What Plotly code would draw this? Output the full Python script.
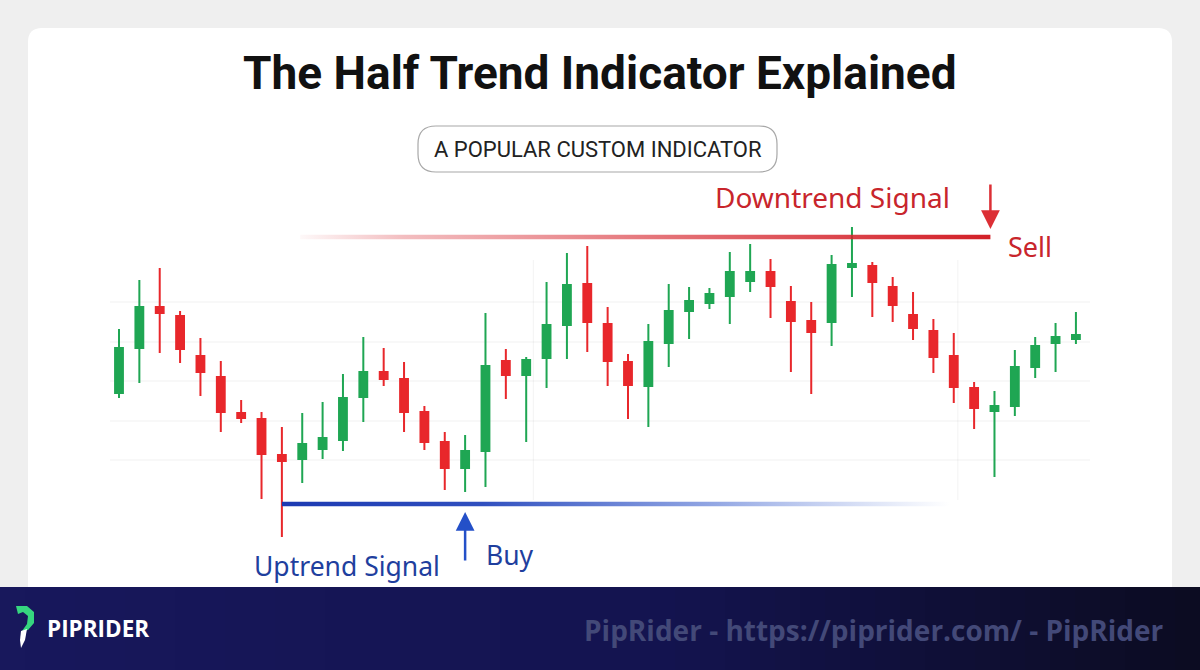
import plotly.graph_objects as go

# ---------------- data ----------------
candle_open  = [207, 252, 293, 284, 244, 223, 187, 181, 145, 141, 151, 160, 203, 228, 221, 188,
                158, 132, 149, 239, 225, 242, 275, 316, 276, 238, 214, 257, 289, 297, 304, 319,
                328, 298, 279, 278, 333, 334, 313, 285, 269, 244, 212, 189, 194, 233, 257, 261]
candle_high  = [271, 320, 332, 289, 262, 239, 200, 188, 173, 187, 198, 226, 263, 252, 238, 194,
                168, 165, 287, 251, 243, 318, 347, 354, 293, 246, 276, 316, 313, 312, 348, 356,
                341, 314, 298, 345, 373, 338, 323, 308, 281, 267, 218, 209, 250, 263, 277, 288]
candle_low   = [202, 217, 247, 237, 204, 168, 177, 101, 63, 117, 141, 149, 178, 214, 168, 150,
                110, 108, 113, 201, 158, 212, 241, 248, 214, 181, 173, 233, 261, 291, 276, 308,
                282, 228, 206, 254, 303, 283, 278, 260, 227, 197, 171, 123, 184, 222, 228, 256]
candle_close = [252, 293, 287, 251, 228, 188, 182, 146, 139, 156, 162, 202, 228, 221, 188, 158,
                132, 149, 234, 225, 240, 275, 315, 278, 239, 215, 258, 289, 299, 306, 328, 328,
                314, 279, 268, 335, 336, 318, 295, 272, 243, 213, 192, 194, 233, 254, 263, 265]
candle_idx = list(range(len(candle_open)))

grid_levels = [298, 258, 219, 179, 140]
grid_vertical_idx = [20.35, 41.2]

sell_level = 363          # downtrend (half trend) line
sell_start_idx = 8.9
sell_end_idx = 42.8
buy_level = 96            # uptrend (half trend) line
buy_start_idx = 8.0
buy_end_idx = 40.8
buy_arrow_idx = 17

title_text = "The Half Trend Indicator Explained"
subtitle_text = "A POPULAR CUSTOM INDICATOR"
footer_text = "PipRider - https://piprider.com/ - PipRider"

# ---------------- geometry helpers ----------------
W, H = 1200, 670
X0_PX, DX_PX = 119, 20.36   # pixel of first candle, pixel per candle
Y_TOP = 600                 # price at the top edge of the figure
LINE_HALF = 2.3             # half thickness of signal lines (price units == px)

def px(x):
    return x / W

def py(y):
    return 1 - y / H

GREEN = "#1fa653"
RED = "#e8272b"

fig = go.Figure()

# half-trend signal lines with horizontal gradient
def band(x0, x1, lv, scale):
    fig.add_trace(go.Scatter(
        x=[x0, x1, x1, x0, x0],
        y=[lv - LINE_HALF, lv - LINE_HALF, lv + LINE_HALF, lv + LINE_HALF, lv - LINE_HALF],
        mode="lines", line=dict(width=0), fill="toself",
        fillgradient=dict(type="horizontal", colorscale=scale),
        hoverinfo="skip", showlegend=False))

band(sell_start_idx, sell_end_idx, sell_level,
     [[0, "rgba(214,36,44,0.03)"], [0.15, "rgba(214,36,44,0.3)"], [0.5, "rgba(214,36,44,0.62)"],
      [0.85, "rgba(212,34,42,0.9)"], [1, "rgba(210,32,40,1)"]])
band(buy_start_idx, buy_end_idx, buy_level,
     [[0, "rgba(28,58,178,1)"], [0.3, "rgba(30,64,185,0.92)"], [0.65, "rgba(40,80,200,0.5)"],
      [1, "rgba(60,100,210,0)"]])

fig.add_trace(go.Candlestick(
    x=candle_idx, open=candle_open, high=candle_high, low=candle_low, close=candle_close,
    increasing=dict(line=dict(color=GREEN, width=2), fillcolor=GREEN),
    decreasing=dict(line=dict(color=RED, width=2), fillcolor=RED),
    whiskerwidth=0, hoverinfo="skip", showlegend=False,
))

shapes = []
# page background card
r = 14
x0, x1, y0, y1 = 28, 1172, 28, 600
card = (f"M {px(x0)},{py(y0 + r)} Q {px(x0)},{py(y0)} {px(x0 + r)},{py(y0)} "
        f"L {px(x1 - r)},{py(y0)} Q {px(x1)},{py(y0)} {px(x1)},{py(y0 + r)} "
        f"L {px(x1)},{py(y1)} L {px(x0)},{py(y1)} Z")
shapes.append(dict(type="path", xref="paper", yref="paper", path=card,
                   fillcolor="#ffffff", line=dict(width=0), layer="below"))

# footer gradient band
nstrip = 48
c_left = (24, 24, 92)
c_mid = (20, 20, 80)
c_right = (12, 12, 34)
for i in range(nstrip):
    t = i / (nstrip - 1)
    if t < 0.55:
        u = t / 0.55
        c = [c_left[k] + (c_mid[k] - c_left[k]) * u for k in range(3)]
    else:
        u = (t - 0.55) / 0.45
        c = [c_mid[k] + (c_right[k] - c_mid[k]) * u for k in range(3)]
    shapes.append(dict(type="rect", xref="paper", yref="paper",
                       x0=i / nstrip, x1=(i + 1) / nstrip + 0.001, y0=0, y1=py(587),
                       fillcolor="rgb(%d,%d,%d)" % tuple(int(v) for v in c),
                       line=dict(width=0), layer="below"))

# faint grid
xg0 = (110 - X0_PX) / DX_PX
xg1 = (1090 - X0_PX) / DX_PX
for lv in grid_levels:
    shapes.append(dict(type="line", xref="x", yref="y", x0=xg0, x1=xg1, y0=lv, y1=lv,
                       line=dict(color="rgba(0,0,0,0.06)", width=1), layer="below"))
for gx in grid_vertical_idx:
    shapes.append(dict(type="line", xref="x", yref="y", x0=gx, x1=gx, y0=100, y1=340,
                       line=dict(color="rgba(0,0,0,0.05)", width=1), layer="below"))

# subtitle pill
r2 = 18
bx0, bx1, by0, by1 = 418, 777, 126, 172
pill = (f"M {px(bx0 + r2)},{py(by0)} L {px(bx1 - r2)},{py(by0)} "
        f"Q {px(bx1)},{py(by0)} {px(bx1)},{py(by0 + r2)} L {px(bx1)},{py(by1 - r2)} "
        f"Q {px(bx1)},{py(by1)} {px(bx1 - r2)},{py(by1)} L {px(bx0 + r2)},{py(by1)} "
        f"Q {px(bx0)},{py(by1)} {px(bx0)},{py(by1 - r2)} L {px(bx0)},{py(by0 + r2)} "
        f"Q {px(bx0)},{py(by0)} {px(bx0 + r2)},{py(by0)} Z")
shapes.append(dict(type="path", xref="paper", yref="paper", path=pill,
                   fillcolor="#ffffff", line=dict(color="#a8a8a8", width=1.2), layer="below"))

# logo mark: green head + white tail
logo = [(16, 606), (27, 606), (34, 612), (34, 623), (28, 630), (22, 631),
        (27, 624), (28, 616), (23, 612), (18, 614)]
path = "M " + " L ".join(f"{px(a)},{py(b)}" for a, b in logo) + " Z"
shapes.append(dict(type="path", xref="paper", yref="paper", path=path,
                   fillcolor="#36d67f", line=dict(width=0)))
tail = [(21, 631), (27, 629), (25, 640), (21, 648), (20, 640)]
path = "M " + " L ".join(f"{px(a)},{py(b)}" for a, b in tail) + " Z"
shapes.append(dict(type="path", xref="paper", yref="paper", path=path,
                   fillcolor="#ffffff", line=dict(width=0)))

annotations = [
    dict(text=title_text, x=px(600), y=py(73), xref="paper", yref="paper", showarrow=False,
         font=dict(family="Roboto", size=46, color="#111111", weight="bold"),
         xanchor="center", yanchor="middle"),
    dict(text=subtitle_text, x=px(598), y=py(149), xref="paper", yref="paper", showarrow=False,
         font=dict(family="Roboto", size=22, color="#222222"),
         xanchor="center", yanchor="middle"),
    dict(text="Downtrend Signal", x=px(832), y=py(197), xref="paper", yref="paper", showarrow=False,
         font=dict(family="Noto Sans", size=28, color="#c8252c"), xanchor="center", yanchor="middle"),
    dict(text="Sell", x=px(1006), y=py(246), xref="paper", yref="paper", showarrow=False,
         font=dict(family="Noto Sans", size=27, color="#c8252c"), xanchor="left", yanchor="middle"),
    dict(text="Uptrend Signal", x=px(252), y=py(566), xref="paper", yref="paper", showarrow=False,
         font=dict(family="Noto Sans", size=26.5, color="#1f3f9e"), xanchor="left", yanchor="middle"),
    dict(text="Buy", x=px(484), y=py(555), xref="paper", yref="paper", showarrow=False,
         font=dict(family="Noto Sans", size=26.5, color="#1f3f9e"), xanchor="left", yanchor="middle"),
    # arrows
    dict(text="", x=sell_end_idx, y=sell_level + 8, xref="x", yref="y", showarrow=True,
         ax=0, ay=-46, arrowhead=2, arrowsize=1.5, arrowwidth=2.5, arrowcolor="#dc2f35"),
    dict(text="", x=buy_arrow_idx, y=buy_level - 8, xref="x", yref="y", showarrow=True,
         ax=0, ay=50, arrowhead=2, arrowsize=1.5, arrowwidth=2.5, arrowcolor="#2450c8"),
    # footer
    dict(text="PIPRIDER", x=px(45), y=py(628), xref="paper", yref="paper", showarrow=False,
         font=dict(family="Open Sans", size=22.5, color="#ffffff", weight="bold"), xanchor="left", yanchor="middle"),
    dict(text=footer_text, x=px(1166), y=py(630), xref="paper", yref="paper", showarrow=False,
         font=dict(family="Open Sans", size=28, color="#434978", weight="bold"), xanchor="right", yanchor="middle"),
]

fig.update_layout(
    width=W, height=H, autosize=False,
    margin=dict(l=0, r=0, t=0, b=0),
    paper_bgcolor="#efefef", plot_bgcolor="rgba(0,0,0,0)",
    boxgap=0.45,
    xaxis=dict(range=[(0 - X0_PX) / DX_PX, (W - X0_PX) / DX_PX], visible=False,
               rangeslider=dict(visible=False), fixedrange=True),
    yaxis=dict(range=[Y_TOP - H, Y_TOP], visible=False, fixedrange=True),
    shapes=shapes, annotations=annotations, showlegend=False,
)

fig.write_html("out.html", config={"displayModeBar": False},
               post_script="document.body.style.margin='0';document.body.style.overflow='hidden';")
